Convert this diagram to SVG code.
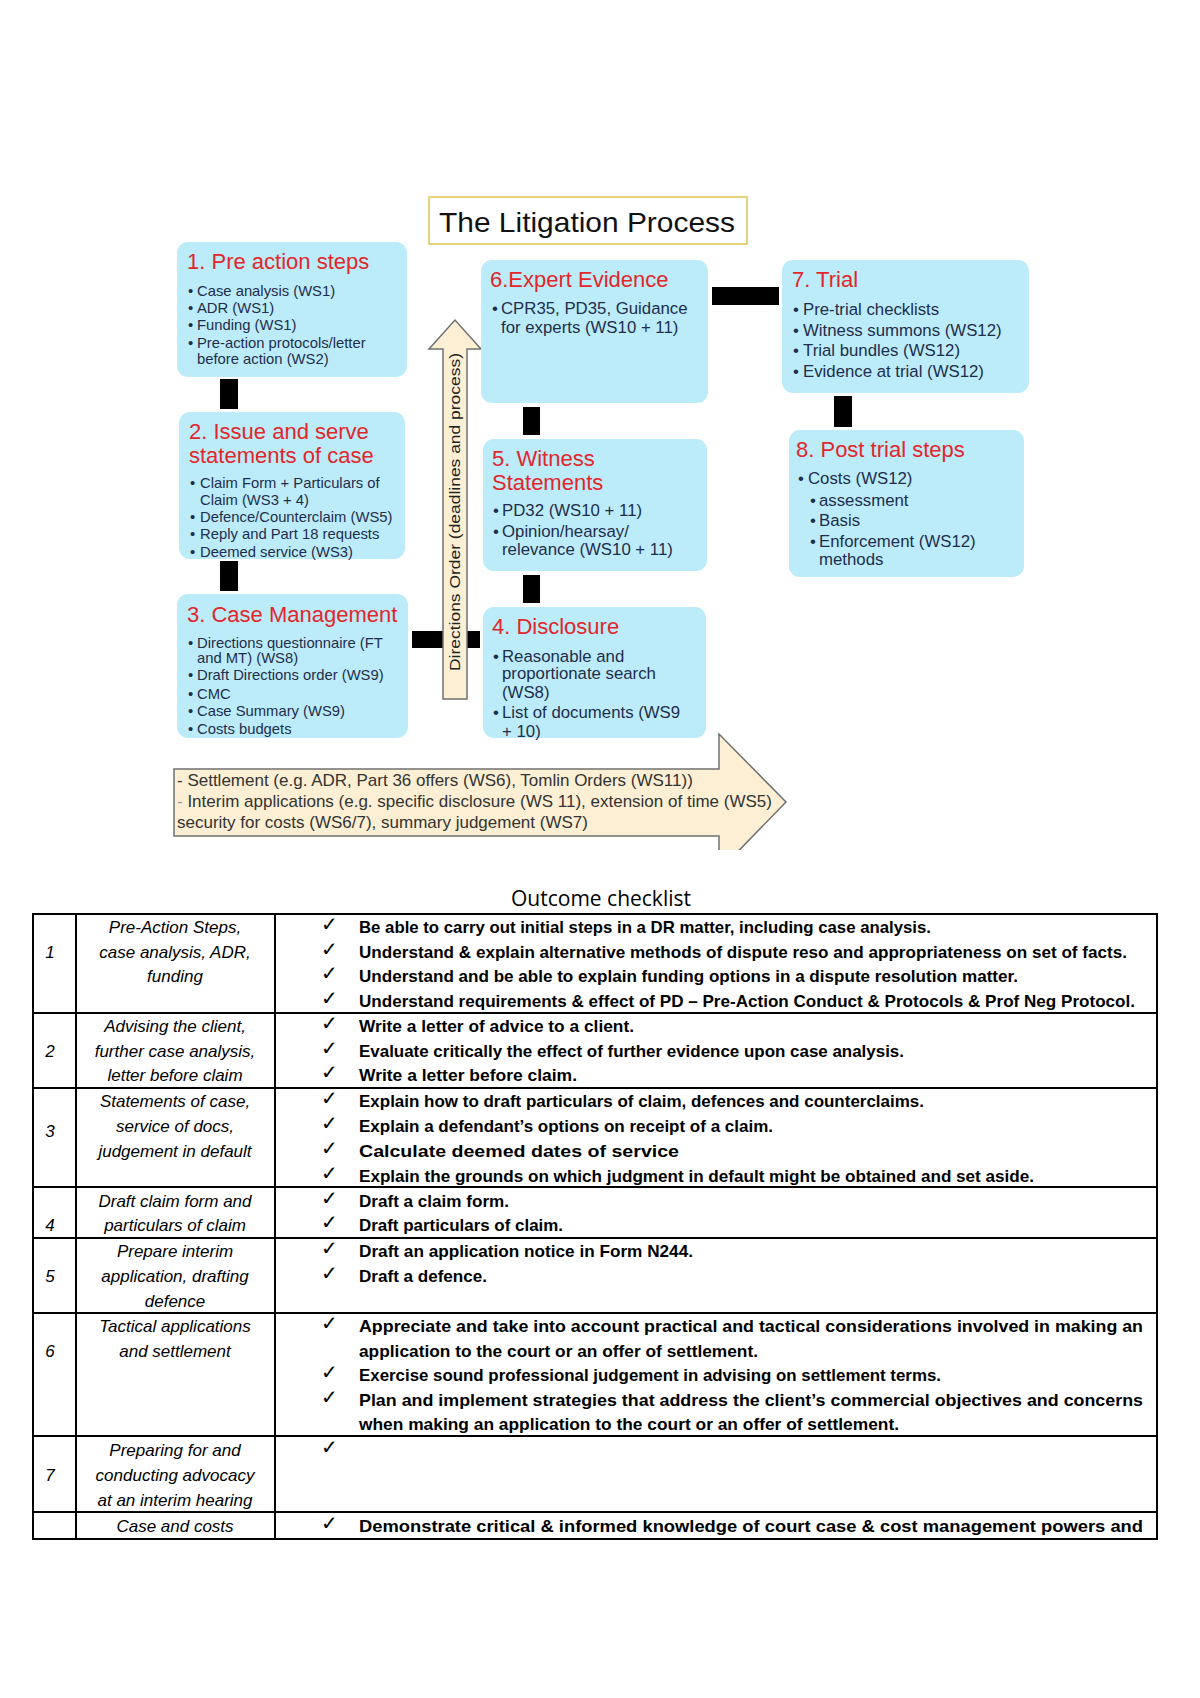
<svg xmlns="http://www.w3.org/2000/svg" width="1200" height="1698" viewBox="0 0 1200 1698">
<defs>
<style>
.box{fill:#bcecf9;stroke:none}
.ttl{font-family:"Liberation Sans",Arial,sans-serif;font-size:22px;fill:#e3262b}
.bl{font-family:"Liberation Sans",Arial,sans-serif;font-size:14.8px;fill:#1f2d4d}
.bm{font-family:"Liberation Sans",Arial,sans-serif;font-size:16.8px;fill:#1f2d4d}
.con{fill:#000}
.cream{fill:#fcefd4;stroke:#707070;stroke-width:1.5}
.arr{font-family:"Liberation Sans",Arial,sans-serif;font-size:17px;fill:#333}
.tb{font-family:"Liberation Sans",Arial,sans-serif;font-size:17px;font-weight:bold;fill:#000}
.it{font-family:"Liberation Sans",Arial,sans-serif;font-size:17px;font-style:italic;fill:#000;text-anchor:middle}
.ck{font-family:"DejaVu Sans",sans-serif;font-size:20px;fill:#000}
.ln{stroke:#000;stroke-width:2;fill:none}
</style>
<clipPath id="dclip"><rect x="0" y="0" width="1200" height="850"/></clipPath>
</defs>
<rect width="1200" height="1698" fill="#fff"/>

<g id="title">
<rect x="429" y="197" width="318" height="47" fill="#fff" stroke="#e6d27c" stroke-width="2"/>
<text x="439" y="232" font-family="Liberation Sans, Arial, sans-serif" font-size="28" fill="#111" textLength="296" lengthAdjust="spacingAndGlyphs">The Litigation Process</text>
</g>

<g id="connectors">
<rect class="con" x="220" y="379" width="18" height="30"/>
<rect class="con" x="220" y="561" width="18" height="30"/>
<rect class="con" x="412" y="631" width="68" height="17"/>
<rect class="con" x="523" y="575" width="17" height="28"/>
<rect class="con" x="523" y="407" width="17" height="28"/>
<rect class="con" x="712" y="287" width="67" height="18"/>
<rect class="con" x="834" y="396" width="18" height="31"/>
</g>

<g id="directions-arrow">
<polygon class="cream" points="443,699 443,349 429,349 455,320 481,349 467,349 467,699"/>
<text transform="translate(460,671) rotate(-90)" font-family="Liberation Sans, Arial, sans-serif" font-size="14.5" fill="#222" textLength="318" lengthAdjust="spacingAndGlyphs">Directions Order  (deadlines and process)</text>
</g>

<g id="node1">
<rect class="box" x="177" y="242" width="230" height="135" rx="11"/>
<text class="ttl" x="187" y="269">1. Pre action steps</text>
<text class="bl" x="188" y="296">•</text><text class="bl" x="197" y="296">Case analysis (WS1)</text>
<text class="bl" x="188" y="313">•</text><text class="bl" x="197" y="313">ADR (WS1)</text>
<text class="bl" x="188" y="330">•</text><text class="bl" x="197" y="330">Funding (WS1)</text>
<text class="bl" x="188" y="348">•</text><text class="bl" x="197" y="348">Pre-action protocols/letter</text>
<text class="bl" x="197" y="364">before action (WS2)</text>
</g>

<g id="node2">
<rect class="box" x="179" y="412" width="226" height="147" rx="11"/>
<text class="ttl" x="189" y="439">2. Issue and serve</text>
<text class="ttl" x="189" y="463">statements of case</text>
<text class="bl" x="190" y="488">•</text><text class="bl" x="200" y="488">Claim Form + Particulars of</text>
<text class="bl" x="200" y="505">Claim (WS3 + 4)</text>
<text class="bl" x="190" y="522">•</text><text class="bl" x="200" y="522">Defence/Counterclaim (WS5)</text>
<text class="bl" x="190" y="539">•</text><text class="bl" x="200" y="539">Reply and Part 18 requests</text>
<text class="bl" x="190" y="557">•</text><text class="bl" x="200" y="557">Deemed service (WS3)</text>
</g>

<g id="node3">
<rect class="box" x="177" y="594" width="231" height="144" rx="11"/>
<text class="ttl" x="187" y="622">3. Case Management</text>
<text class="bl" x="188" y="648">•</text><text class="bl" x="197" y="648">Directions questionnaire (FT</text>
<text class="bl" x="197" y="663">and MT) (WS8)</text>
<text class="bl" x="188" y="680">•</text><text class="bl" x="197" y="680">Draft Directions order (WS9)</text>
<text class="bl" x="188" y="699">•</text><text class="bl" x="197" y="699">CMC</text>
<text class="bl" x="188" y="716">•</text><text class="bl" x="197" y="716">Case Summary (WS9)</text>
<text class="bl" x="188" y="734">•</text><text class="bl" x="197" y="734">Costs budgets</text>
</g>

<g id="node6">
<rect class="box" x="481" y="260" width="227" height="143" rx="11"/>
<text class="ttl" x="490" y="287">6.Expert Evidence</text>
<text class="bm" x="492" y="314">•</text><text class="bm" x="501" y="314">CPR35, PD35, Guidance</text>
<text class="bm" x="501" y="333">for experts (WS10 + 11)</text>
</g>

<g id="node5">
<rect class="box" x="483" y="439" width="224" height="132" rx="11"/>
<text class="ttl" x="492" y="466">5. Witness</text>
<text class="ttl" x="492" y="490">Statements</text>
<text class="bm" x="493" y="516">•</text><text class="bm" x="502" y="516">PD32 (WS10 + 11)</text>
<text class="bm" x="493" y="537">•</text><text class="bm" x="502" y="537">Opinion/hearsay/</text>
<text class="bm" x="502" y="555">relevance (WS10 + 11)</text>
</g>

<g id="node4">
<rect class="box" x="483" y="607" width="223" height="131" rx="11"/>
<text class="ttl" x="492" y="634">4. Disclosure</text>
<text class="bm" x="493" y="662">•</text><text class="bm" x="502" y="662">Reasonable and</text>
<text class="bm" x="502" y="679">proportionate search</text>
<text class="bm" x="502" y="698">(WS8)</text>
<text class="bm" x="493" y="718">•</text><text class="bm" x="502" y="718">List of documents (WS9</text>
<text class="bm" x="502" y="737">+ 10)</text>
</g>

<g id="node7">
<rect class="box" x="782" y="260" width="247" height="133" rx="11"/>
<text class="ttl" x="792" y="287">7. Trial</text>
<text class="bm" x="793" y="315">•</text><text class="bm" x="803" y="315">Pre-trial checklists</text>
<text class="bm" x="793" y="336">•</text><text class="bm" x="803" y="336">Witness summons (WS12)</text>
<text class="bm" x="793" y="356">•</text><text class="bm" x="803" y="356">Trial bundles (WS12)</text>
<text class="bm" x="793" y="377">•</text><text class="bm" x="803" y="377">Evidence at trial (WS12)</text>
</g>

<g id="node8">
<rect class="box" x="789" y="430" width="235" height="147" rx="11"/>
<text class="ttl" x="796" y="457">8. Post trial steps</text>
<text class="bm" x="798" y="484">•</text><text class="bm" x="808" y="484">Costs (WS12)</text>
<text class="bm" x="810" y="506">•</text><text class="bm" x="819" y="506">assessment</text>
<text class="bm" x="810" y="526">•</text><text class="bm" x="819" y="526">Basis</text>
<text class="bm" x="810" y="547">•</text><text class="bm" x="819" y="547">Enforcement (WS12)</text>
<text class="bm" x="819" y="565">methods</text>
</g>

<g id="settlement-arrow" clip-path="url(#dclip)">
<polygon class="cream" points="174,769 719,769 719,734 786,802 719,871 719,836 174,836"/>
<text class="arr" x="177" y="786">- Settlement (e.g. ADR, Part 36 offers (WS6), Tomlin Orders (WS11))</text>
<text class="arr" x="177" y="807"><tspan fill="#999">-</tspan> Interim applications (e.g. specific disclosure (WS 11), extension of time (WS5)</text>
<text class="arr" x="177" y="828">security for costs (WS6/7), summary judgement (WS7)</text>
</g>

<g id="checklist">
<text x="601" y="906" font-family="Open Sans, Liberation Sans, sans-serif" font-size="21" fill="#000" text-anchor="middle">Outcome checklist</text>
<rect class="ln" x="33" y="914" width="1124" height="625"/>
<line class="ln" x1="76" y1="914" x2="76" y2="1539"/>
<line class="ln" x1="275" y1="914" x2="275" y2="1539"/>
<line class="ln" x1="33" y1="1013" x2="1157" y2="1013"/>
<line class="ln" x1="33" y1="1088" x2="1157" y2="1088" stroke-width="2.5"/>
<line class="ln" x1="33" y1="1187" x2="1157" y2="1187" stroke-width="2.5"/>
<line class="ln" x1="33" y1="1238" x2="1157" y2="1238" stroke-width="2.5"/>
<line class="ln" x1="33" y1="1313" x2="1157" y2="1313" stroke-width="2.5"/>
<line class="ln" x1="33" y1="1436" x2="1157" y2="1436" stroke-width="2.5"/>
<line class="ln" x1="33" y1="1512" x2="1157" y2="1512" stroke-width="2.5"/>

<g class="nums">
<text class="it" x="50" y="958">1</text>
<text class="it" x="50" y="1057">2</text>
<text class="it" x="50" y="1137">3</text>
<text class="it" x="50" y="1231">4</text>
<text class="it" x="50" y="1282">5</text>
<text class="it" x="50" y="1357">6</text>
<text class="it" x="50" y="1481">7</text>
</g>

<g class="topics">
<text class="it" x="175" y="933">Pre-Action Steps,</text>
<text class="it" x="175" y="958">case analysis, ADR,</text>
<text class="it" x="175" y="982">funding</text>
<text class="it" x="175" y="1032">Advising the client,</text>
<text class="it" x="175" y="1057">further case analysis,</text>
<text class="it" x="175" y="1081">letter before claim</text>
<text class="it" x="175" y="1107">Statements of case,</text>
<text class="it" x="175" y="1132">service of docs,</text>
<text class="it" x="175" y="1157">judgement in default</text>
<text class="it" x="175" y="1207">Draft claim form and</text>
<text class="it" x="175" y="1231">particulars of claim</text>
<text class="it" x="175" y="1257">Prepare interim</text>
<text class="it" x="175" y="1282">application, drafting</text>
<text class="it" x="175" y="1307">defence</text>
<text class="it" x="175" y="1332">Tactical applications</text>
<text class="it" x="175" y="1357">and settlement</text>
<text class="it" x="175" y="1456">Preparing for and</text>
<text class="it" x="175" y="1481">conducting advocacy</text>
<text class="it" x="175" y="1506">at an interim hearing</text>
<text class="it" x="175" y="1532">Case and costs</text>
</g>

<g class="checks">
<text class="ck" x="321" y="931">✓</text>
<text class="ck" x="321" y="956">✓</text>
<text class="ck" x="321" y="980">✓</text>
<text class="ck" x="321" y="1005">✓</text>
<text class="ck" x="321" y="1030">✓</text>
<text class="ck" x="321" y="1055">✓</text>
<text class="ck" x="321" y="1079">✓</text>
<text class="ck" x="321" y="1105">✓</text>
<text class="ck" x="321" y="1130">✓</text>
<text class="ck" x="321" y="1155">✓</text>
<text class="ck" x="321" y="1180">✓</text>
<text class="ck" x="321" y="1205">✓</text>
<text class="ck" x="321" y="1229">✓</text>
<text class="ck" x="321" y="1255">✓</text>
<text class="ck" x="321" y="1280">✓</text>
<text class="ck" x="321" y="1330">✓</text>
<text class="ck" x="321" y="1379">✓</text>
<text class="ck" x="321" y="1404">✓</text>
<text class="ck" x="321" y="1454">✓</text>
<text class="ck" x="321" y="1530">✓</text>
</g>

<g class="outcomes">
<text class="tb" x="359" y="933" textLength="572" lengthAdjust="spacingAndGlyphs">Be able to carry out initial steps in a DR matter, including case analysis.</text>
<text class="tb" x="359" y="958" textLength="768" lengthAdjust="spacingAndGlyphs">Understand &amp; explain alternative methods of dispute reso and appropriateness on set of facts.</text>
<text class="tb" x="359" y="982" textLength="659" lengthAdjust="spacingAndGlyphs">Understand and be able to explain funding options in a dispute resolution matter.</text>
<text class="tb" x="359" y="1007" textLength="776" lengthAdjust="spacingAndGlyphs">Understand requirements &amp; effect of PD – Pre-Action Conduct &amp; Protocols &amp; Prof Neg Protocol.</text>
<text class="tb" x="359" y="1032" textLength="275" lengthAdjust="spacingAndGlyphs">Write a letter of advice to a client.</text>
<text class="tb" x="359" y="1057" textLength="545" lengthAdjust="spacingAndGlyphs">Evaluate critically the effect of further evidence upon case analysis.</text>
<text class="tb" x="359" y="1081" textLength="218" lengthAdjust="spacingAndGlyphs">Write a letter before claim.</text>
<text class="tb" x="359" y="1107" textLength="565" lengthAdjust="spacingAndGlyphs">Explain how to draft particulars of claim, defences and counterclaims.</text>
<text class="tb" x="359" y="1132" textLength="414" lengthAdjust="spacingAndGlyphs">Explain a defendant’s options on receipt of a claim.</text>
<text class="tb" x="359" y="1157" textLength="320" lengthAdjust="spacingAndGlyphs">Calculate deemed dates of service</text>
<text class="tb" x="359" y="1182" textLength="675" lengthAdjust="spacingAndGlyphs">Explain the grounds on which judgment in default might be obtained and set aside.</text>
<text class="tb" x="359" y="1207" textLength="150" lengthAdjust="spacingAndGlyphs">Draft a claim form.</text>
<text class="tb" x="359" y="1231" textLength="204" lengthAdjust="spacingAndGlyphs">Draft particulars of claim.</text>
<text class="tb" x="359" y="1257" textLength="334" lengthAdjust="spacingAndGlyphs">Draft an application notice in Form N244.</text>
<text class="tb" x="359" y="1282" textLength="128" lengthAdjust="spacingAndGlyphs">Draft a defence.</text>
<text class="tb" x="359" y="1332" textLength="784" lengthAdjust="spacingAndGlyphs">Appreciate and take into account practical and tactical considerations involved in making an</text>
<text class="tb" x="359" y="1357" textLength="399" lengthAdjust="spacingAndGlyphs">application to the court or an offer of settlement.</text>
<text class="tb" x="359" y="1381" textLength="582" lengthAdjust="spacingAndGlyphs">Exercise sound professional judgement in advising on settlement terms.</text>
<text class="tb" x="359" y="1406" textLength="784" lengthAdjust="spacingAndGlyphs">Plan and implement strategies that address the client’s commercial objectives and concerns</text>
<text class="tb" x="359" y="1430" textLength="540" lengthAdjust="spacingAndGlyphs">when making an application to the court or an offer of settlement.</text>
<text class="tb" x="359" y="1532" textLength="784" lengthAdjust="spacingAndGlyphs">Demonstrate critical &amp; informed knowledge of court case &amp; cost management powers and</text>
</g>
</g>
</svg>
